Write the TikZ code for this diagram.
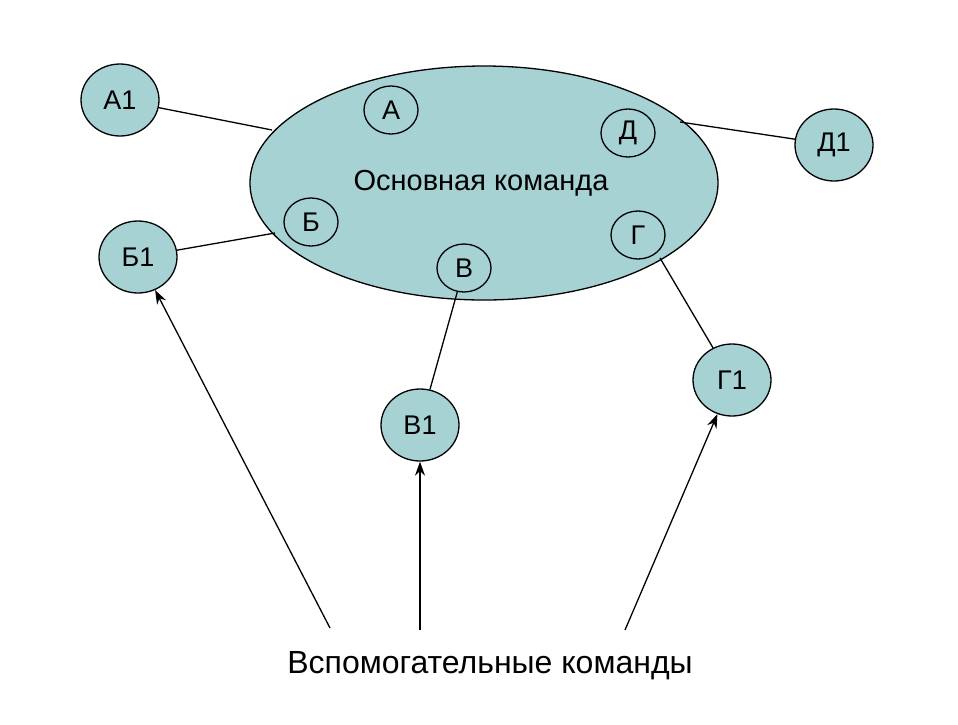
\documentclass[tikz,border=0pt]{standalone}
\usetikzlibrary{shapes.geometric,arrows.meta}
\usepackage{fontspec}
\setmainfont{Liberation Sans}
\definecolor{tealfill}{RGB}{166,210,212}
\begin{document}
\begin{tikzpicture}[x=1pt,y=-1pt,
  lnk/.style={line width=1.3pt},
  arr/.style={line width=1.3pt,-{Stealth[length=14pt,width=10pt]}}]
\useasboundingbox[fill=white] (0,0) rectangle (958,724);
\node[draw,line width=1.3pt,fill=tealfill,ellipse,minimum width=468pt,minimum height=234pt] (main) at (484,183) {};
\node[font=\fontsize{29}{32}\selectfont] (mt) at (481,183) {Основная команда};
\tikzset{inner/.style={draw,line width=1.3pt,ellipse,minimum width=54pt,minimum height=48pt,inner sep=0pt,font=\fontsize{27}{30}\selectfont},
 outer/.style={draw,line width=1.3pt,fill=tealfill,ellipse,minimum width=78pt,minimum height=72pt,inner sep=0pt,font=\fontsize{27}{30}\selectfont}}
\node[inner] (A) at (391,110) {А};
\node[inner] (D) at (628,133) {Д};
\node[inner] (B) at (311,222) {Б};
\node[inner] (V) at (464,268) {В};
\node[inner] (G) at (638,235) {Г};
\node[outer] (A1) at (120,100) {А1};
\node[outer] (D1) at (834,145) {Д1};
\node[outer] (B1) at (138,257) {Б1};
\node[outer] (V1) at (420,425) {В1};
\node[outer] (G1) at (732,380) {Г1};
\node[font=\fontsize{32}{36}\selectfont] (aux) at (490,666) {Вспомогательные команды};
\coordinate (pa) at (272,130);
\coordinate (pd) at (680,122);
\coordinate (pb) at (275,233);
\coordinate (pg) at (660,258);
\draw[lnk] (A1) -- (pa);
\draw[lnk] (D1) -- (pd);
\draw[lnk] (B1) -- (pb);
\draw[lnk] (V1) -- (V);
\draw[lnk] (G1) -- (pg);
\coordinate (s1) at (330,628);
\coordinate (s2) at (420,630);
\coordinate (s3) at (625,630);
\draw[arr] (s1) -- (B1);
\draw[arr] (s2) -- (V1);
\draw[arr] (s3) -- (G1);
\end{tikzpicture}
\end{document}
